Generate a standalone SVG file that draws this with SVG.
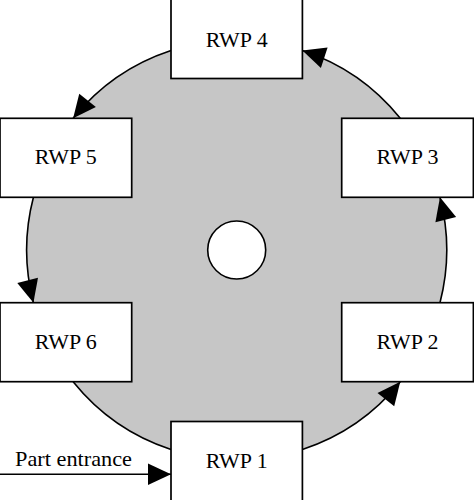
<svg xmlns="http://www.w3.org/2000/svg" width="474" height="500" viewBox="0 0 474 500">
<style>
.box{fill:#ffffff;stroke:#000000;stroke-width:1.7}
.lbl{font-family:"Liberation Serif","DejaVu Serif",serif;font-size:21px;fill:#000000;text-anchor:middle}
.con{fill:none;stroke:#000000;stroke-width:1.6}
</style>
<defs>
<marker id="arr" markerUnits="userSpaceOnUse" markerWidth="24" markerHeight="22" refX="23" refY="10.7" orient="auto" overflow="visible">
<path d="M0,0 L23,10.7 L0,21.4 Z" fill="#000000"/>
</marker>
</defs>
<g id="disk">
<circle cx="236.7" cy="250" r="210" fill="#c6c6c6"/>
<circle cx="236.7" cy="250" r="29" fill="#ffffff" stroke="#000000" stroke-width="1.6"/>
</g>
<g id="connectors">
<path class="con" d="M302.4,449.46 A210,210 0 0 0 400.27,381.7" marker-end="url(#arr)"/>
<path class="con" d="M439.98,302.7 A210,210 0 0 0 439.98,197.3" marker-end="url(#arr)"/>
<path class="con" d="M400.27,118.3 A210,210 0 0 0 302.4,50.54" marker-end="url(#arr)"/>
<path class="con" d="M171,50.54 A210,210 0 0 0 73.13,118.3" marker-end="url(#arr)"/>
<path class="con" d="M33.42,197.3 A210,210 0 0 0 33.42,302.7" marker-end="url(#arr)"/>
<path class="con" d="M73.13,381.7 A210,210 0 0 0 171,449.46"/>
<path class="con" d="M-2,474.3 L171,474.3" marker-end="url(#arr)"/>
<text class="lbl" x="73.5" y="465.7" textLength="117" lengthAdjust="spacingAndGlyphs">Part entrance</text>
</g>
<g id="rwp1"><rect class="box" x="171" y="421.5" width="131.4" height="80"/><text class="lbl" x="236.7" y="467.5" textLength="62" lengthAdjust="spacingAndGlyphs">RWP 1</text></g>
<g id="rwp2"><rect class="box" x="341.7" y="302.7" width="131.7" height="79"/><text class="lbl" x="407.5" y="348.7" textLength="62" lengthAdjust="spacingAndGlyphs">RWP 2</text></g>
<g id="rwp3"><rect class="box" x="341.7" y="118.3" width="131.7" height="79"/><text class="lbl" x="407.5" y="164.3" textLength="62" lengthAdjust="spacingAndGlyphs">RWP 3</text></g>
<g id="rwp4"><rect class="box" x="171" y="-1.5" width="131.4" height="80"/><text class="lbl" x="236.7" y="46.5" textLength="62" lengthAdjust="spacingAndGlyphs">RWP 4</text></g>
<g id="rwp5"><rect class="box" x="0" y="118.3" width="131.7" height="79"/><text class="lbl" x="65.8" y="164.3" textLength="62" lengthAdjust="spacingAndGlyphs">RWP 5</text></g>
<g id="rwp6"><rect class="box" x="0" y="302.7" width="131.7" height="79"/><text class="lbl" x="65.8" y="348.7" textLength="62" lengthAdjust="spacingAndGlyphs">RWP 6</text></g>
</svg>
